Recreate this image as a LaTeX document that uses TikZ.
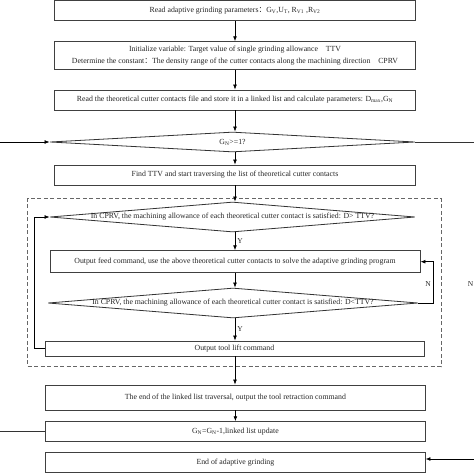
\documentclass[tikz,border=0pt]{standalone}
\usepackage{fontspec}
\setmainfont{Liberation Serif}
\newfontfamily\cjk{Noto Sans CJK SC}
\usetikzlibrary{arrows.meta,shapes.geometric}
\tikzset{
  box/.style={draw=black!75, line width=0.8pt, rectangle, inner sep=0pt, fill=white,
    text=black!85, font=\fontsize{7.8}{11.5}\selectfont, align=center},
  dia/.style={draw=black!80, line width=0.8pt, diamond, inner sep=0pt,
    text=black!85, font=\fontsize{7.8}{9}\selectfont},
  arr/.style={draw=black, line width=0.7pt, -{Latex[length=5pt,width=3.8pt]}},
  lin/.style={draw=black!80, line width=0.8pt},
  lab/.style={text=black!85, font=\fontsize{7.5}{9}\selectfont, inner sep=0pt},
  dashbox/.style={draw=black!60, line width=0.8pt, dash pattern=on 4pt off 2.5pt, rectangle, inner sep=0pt}
}
\begin{document}
\begin{tikzpicture}[x=1pt,y=-1pt]
\useasboundingbox (0,0) rectangle (474,474);
\node[dashbox, minimum width=413.3pt, minimum height=168.4pt] (dash) at (234.35,282.5) {};
\node[box, minimum width=361pt, minimum height=20.7pt] (b1) at (235,10.35)
  {Read adaptive grinding parameters{\cjk ：}G\textsubscript{V},U\textsubscript{T}, R\textsubscript{V1} ,R\textsubscript{V2}};
\node[box, minimum width=361pt, minimum height=27.6pt] (b2) at (235,55.5)
  {Initialize variable: Target value of single grinding allowance\quad TTV\\
   Determine the constant{\cjk ：}The density range of the cutter contacts along the machining direction\quad CPRV};
\node[box, minimum width=361pt, minimum height=20pt] (b3) at (235,100)
  {Read the theoretical cutter contacts file and store it in a linked list and calculate parameters: D\textsubscript{max},G\textsubscript{N}};
\node[dia, minimum width=365pt, minimum height=20pt] (gn) at (232.5,142)
  {\makebox[0pt]{G\textsubscript{N}\textgreater{}=1?}};
\node[box, minimum width=361pt, minimum height=20pt] (find) at (235,175)
  {Find TTV and start traversing the list of theoretical cutter contacts};
\node[dia, minimum width=365pt, minimum height=30pt] (d1) at (232.5,217)
  {\makebox[0pt]{In CPRV, the machining allowance of each theoretical cutter contact is satisfied: D\textgreater{} TTV?}};
\node[box, minimum width=370pt, minimum height=22pt] (feed) at (235,261.7)
  {Output feed command, use the above theoretical cutter contacts to solve the adaptive grinding program};
\node[dia, minimum width=370pt, minimum height=30pt] (d2) at (233,303)
  {\makebox[0pt]{In CPRV, the machining allowance of each theoretical cutter contact is satisfied: D\textless{}TTV?}};
\node[box, minimum width=379pt, minimum height=15pt] (lift) at (234.4,348.5)
  {Output tool lift command};
\node[box, minimum width=379.3pt, minimum height=25pt] (endl) at (235.4,397.5)
  {The end of the linked list traversal, output the tool retraction command};
\node[box, minimum width=379.3pt, minimum height=19.3pt] (upd) at (235.4,431.3)
  {G\textsubscript{N}=G\textsubscript{N}-1,linked list update};
\node[box, minimum width=379.3pt, minimum height=19.3pt] (fin) at (235.4,462.4)
  {End of adaptive grinding};
\coordinate (lin) at (0,142);
\coordinate (rout) at (474,142);
\coordinate (uout) at (0,431.3);
\coordinate (ein) at (474,459);
\draw[arr] (b1.south) -- (b2.north);
\draw[arr] (b2.south) -- (b3.north);
\draw[arr] (b3.south) -- (b3.south |- gn.north);
\draw[arr] (b3.south |- gn.south) -- (find.north);
\draw[arr] (find.south) -- (find.south |- d1.north);
\draw[arr] (find.south |- d1.south) -- (feed.north) node[lab, midway, right=2pt] {Y};
\draw[arr] (feed.south) -- (feed.south |- d2.north);
\draw[arr] (feed.south |- d2.south) -- (feed.south |- lift.north) node[lab, midway, right=2pt] {Y};
\draw[arr] (feed.south |- lift.south) -- (feed.south |- endl.north);
\draw[arr] (endl.south) -- (upd.north);
\draw[arr] (d2.east) -- ++(15,0) |- (feed.east);
\node[lab] (n1) at (428,284) {N};
\node[lab, anchor=east] (n2) at (473.5,284) {N};
\draw[arr] (lift.west) -- ++(-9.7,0) |- (d1.west);
\draw[arr] (lin) -- (gn.west);
\draw[lin] (gn.east) -- (rout);
\draw[lin] (upd.west) -- (uout);
\draw[arr] (ein) -- (ein -| fin.east);
\end{tikzpicture}
\end{document}
